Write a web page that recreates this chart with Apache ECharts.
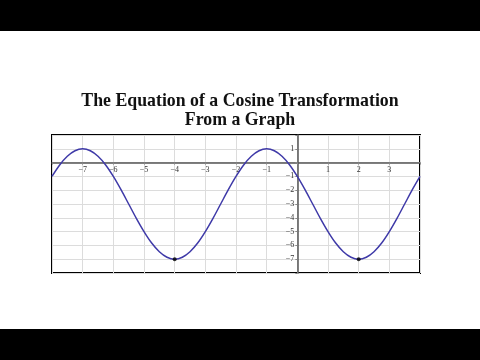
<!DOCTYPE html>
<html>
<head>
<meta charset="utf-8">
<style>html,body{margin:0;padding:0;background:#fff;}#c{width:480px;height:360px;}</style>
<script src="https://cdn.jsdelivr.net/npm/echarts@6/dist/echarts.min.js"></script>
</head>
<body>
<div id="c"></div>
<script>
const titleLines = ['The Equation of a Cosine Transformation', 'From a Graph'];
const curveX = [-8,-7.75,-7.5,-7.25,-7,-6.75,-6.5,-6.25,-6,-5.75,-5.5,-5.25,-5,-4.75,-4.5,-4.25,-4,-3.75,-3.5,-3.25,-3,-2.75,-2.5,-2.25,-2,-1.75,-1.5,-1.25,-1,-0.75,-0.5,-0.25,0,0.25,0.5,0.75,1,1.25,1.5,1.75,2,2.25,2.5,2.75,3,3.25,3.5,3.75,4];
const curveY = [-1,-0.17,0.46,0.86,1,0.86,0.46,-0.17,-1,-1.96,-3,-4.04,-5,-5.83,-6.46,-6.86,-7,-6.86,-6.46,-5.83,-5,-4.04,-3,-1.96,-1,-0.17,0.46,0.86,1,0.86,0.46,-0.17,-1,-1.96,-3,-4.04,-5,-5.83,-6.46,-6.86,-7,-6.86,-6.46,-5.83,-5,-4.04,-3,-1.96,-1];
const pointX = [-4, 2];
const pointY = [-7, -7];
const xTickLabels = [-7,-6,-5,-4,-3,-2,-1,1,2,3];
const yTickLabels = [1,-1,-2,-3,-4,-5,-6,-7];

const xMin = -8, xMax = 4, yMin = -8, yMax = 2;
const gLeft = 52, gRight = 60, gTop = 135, gBottom = 87;
const gW = 480 - gLeft - gRight, gH = 360 - gTop - gBottom;

const chart = echarts.init(document.getElementById('c'), null, {renderer:'canvas'});
const fmt = (list) => (v) => list.indexOf(Math.round(v)) >= 0 && Math.abs(v - Math.round(v)) < 1e-6 ? (v < 0 ? '\u2212' + Math.abs(v) : String(v)) : '';
chart.setOption({
  animation: false,
  backgroundColor: '#fff',
  title: {
    text: titleLines.join('\n'),
    left: 'center',
    top: 87,
    textStyle: {fontFamily: 'Liberation Serif', fontWeight: 'bold', fontSize: 17.8, lineHeight: 19, color: '#111'}
  },
  graphic: [
    {type: 'rect', shape: {x: 0, y: 0, width: 480, height: 31}, style: {fill: '#000'}},
    {type: 'rect', shape: {x: 0, y: 329, width: 480, height: 31}, style: {fill: '#000'}}
  ],
  grid: {left: gLeft, right: gRight, top: gTop, bottom: gBottom, show: true, borderColor: '#000', borderWidth: 2, backgroundColor: 'transparent'},
  xAxis: {
    type: 'value', min: xMin, max: xMax, interval: 1,
    position: 'bottom',
    offset: -gH * (0 - yMin) / (yMax - yMin),
    axisLine: {onZero: false, lineStyle: {color: '#555', width: 1.5}},
    axisTick: {show: true, length: 2, lineStyle: {color: '#888'}},
    axisLabel: {fontFamily: 'Liberation Serif', fontSize: 8, color: '#333', margin: 3, formatter: fmt(xTickLabels), showMinLabel: true, showMaxLabel: true},
    splitLine: {show: true, lineStyle: {color: '#dcdcdc', width: 1}}
  },
  yAxis: {
    type: 'value', min: yMin, max: yMax, interval: 1,
    position: 'left',
    offset: -gW * (0 - xMin) / (xMax - xMin),
    axisLine: {onZero: false, lineStyle: {color: '#555', width: 1.5}},
    axisTick: {show: true, length: 2, lineStyle: {color: '#888'}},
    axisLabel: {fontFamily: 'Liberation Serif', fontSize: 8, color: '#333', margin: 3, formatter: fmt(yTickLabels), showMinLabel: true, showMaxLabel: true},
    splitLine: {show: true, lineStyle: {color: '#dcdcdc', width: 1}}
  },
  series: [
    {type: 'line', data: curveX.map((x, i) => [x, curveY[i]]), smooth: 0.3, showSymbol: false, lineStyle: {color: '#3f3aa8', width: 1.5}, z: 3},
    {type: 'scatter', data: pointX.map((x, i) => [x, pointY[i]]), symbolSize: 4, itemStyle: {color: '#000'}, z: 4}
  ]
});
</script>
</body>
</html>
